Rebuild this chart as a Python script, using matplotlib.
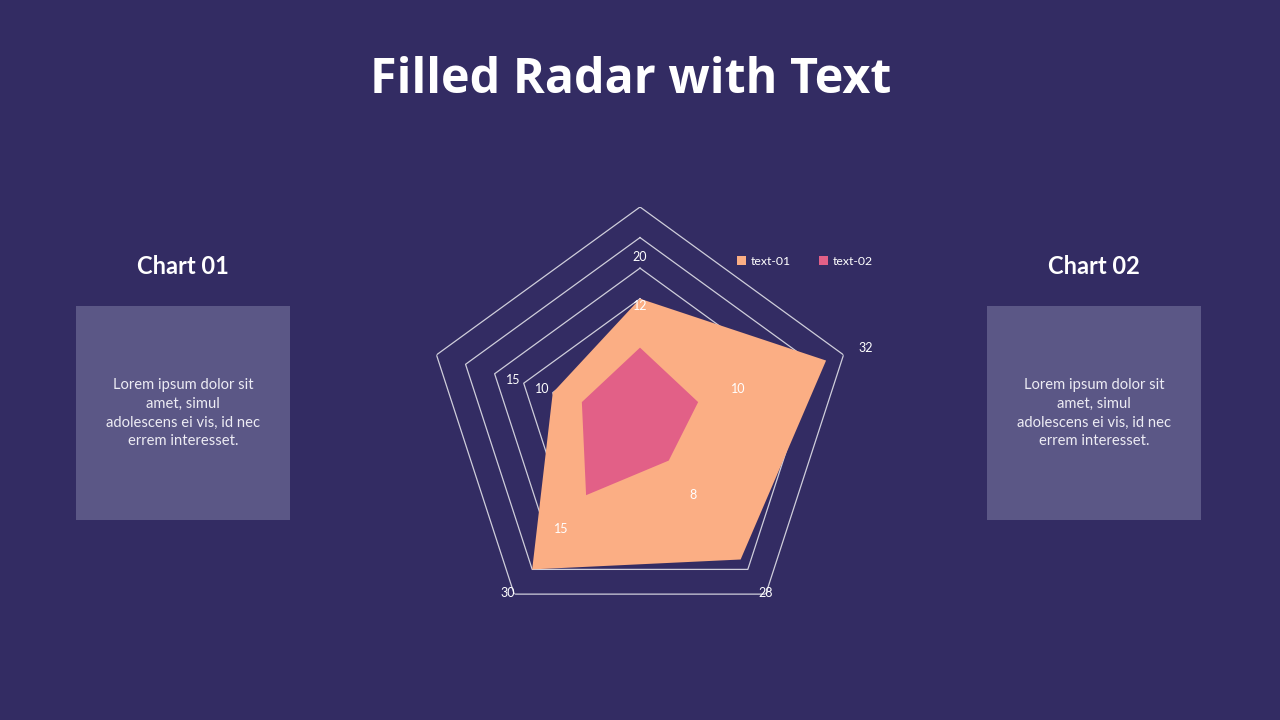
import numpy as np
import matplotlib
matplotlib.use("Agg")
import matplotlib.pyplot as plt
from matplotlib.patches import Rectangle, Patch

# ---- data ----
categories = ["A", "B", "C", "D", "E"]
series_names = ["text-01", "text-02"]
values_01 = [20, 32, 28, 30, 15]
values_02 = [12, 10, 8, 15, 10]
ring_levels = [5, 10, 15, 20, 25, 30, 35]
r_max = 35
title = "Filled Radar with Text"
panel_titles = ["Chart 01", "Chart 02"]
panel_text = "Lorem ipsum dolor sit\namet, simul\nadolescens ei vis, id nec\nerrem interesset."

BG = "#332C63"
BOX = "#5B5786"
ORANGE = "#FBAE84"
PINK = "#E26087"
GRID = "#CFCEDB"

W, H = 1280, 720
fig = plt.figure(figsize=(12.8, 7.2), dpi=100, facecolor=BG)

# title
fig.text(631 / W, 1 - 93 / H, title, ha="center", va="baseline", color="white",
         fontsize=34.8, fontweight="bold", family="Open Sans")

# side panels
for cx, name in zip([183, 1094], panel_titles):
    fig.text(cx / W, 1 - 266 / H, name, ha="center", va="center", color="white",
             fontsize=17, fontweight="bold", family="Lato")
    fig.patches.append(Rectangle(((cx - 107) / W, 1 - 520 / H), 214 / W, 214 / H,
                                 transform=fig.transFigure, facecolor=BOX,
                                 edgecolor="none", zorder=0))
    fig.text(cx / W, 1 - 413 / H, panel_text, ha="center", va="center",
             color="#EDECF4", fontsize=10.6, family="Lato", linespacing=1.45)

# radar axes
cx, cy, R = 640, 421, 214
ax = fig.add_axes([(cx - R) / W, 1 - (cy + R) / H, 2 * R / W, 2 * R / H],
                  projection="polar")
ax.set_facecolor("none")
ax.set_theta_offset(np.pi / 2)
ax.set_theta_direction(-1)
ax.set_ylim(0, r_max)
ax.grid(False)
ax.set_xticks([])
ax.set_yticks([])
ax.spines["polar"].set_visible(False)

n = len(categories)
theta = np.linspace(0, 2 * np.pi, n, endpoint=False)
theta_c = np.append(theta, theta[0])

for lv in ring_levels:
    ax.plot(theta_c, [lv] * (n + 1), color=GRID, lw=0.9, zorder=1)

for vals, col in [(values_01, ORANGE), (values_02, PINK)]:
    v = np.append(vals, vals[0])
    ax.fill(theta_c, v, color=col, lw=0, zorder=2)

# data labels, offset outward ~42 px from each vertex
fig.canvas.draw()
inv = fig.transFigure.inverted()
center_disp = ax.transData.transform((0, 0))
for vals in [values_01, values_02]:
    for t, v in zip(theta, vals):
        p = ax.transData.transform((t, v))
        d = p - center_disp
        d = d / np.hypot(*d)
        q = p + 42 * d
        q[1] = max(q[1], H - 593)
        fq = inv.transform(q)
        fig.text(fq[0], fq[1], str(v), ha="center", va="center", color="white",
                 fontsize=9, family="Lato", zorder=5)

# legend
handles = [Patch(facecolor=ORANGE, edgecolor="none"), Patch(facecolor=PINK, edgecolor="none")]
leg = fig.legend(handles, series_names, loc="center", bbox_to_anchor=(805 / W, 1 - 261 / H),
                 ncol=2, frameon=False, handlelength=0.7, handleheight=0.7,
                 handletextpad=0.4, columnspacing=2.3,
                 prop={"family": "Lato", "size": 8.8})
for txt in leg.get_texts():
    txt.set_color("white")

fig.savefig("out.png", dpi=100, facecolor=BG)
